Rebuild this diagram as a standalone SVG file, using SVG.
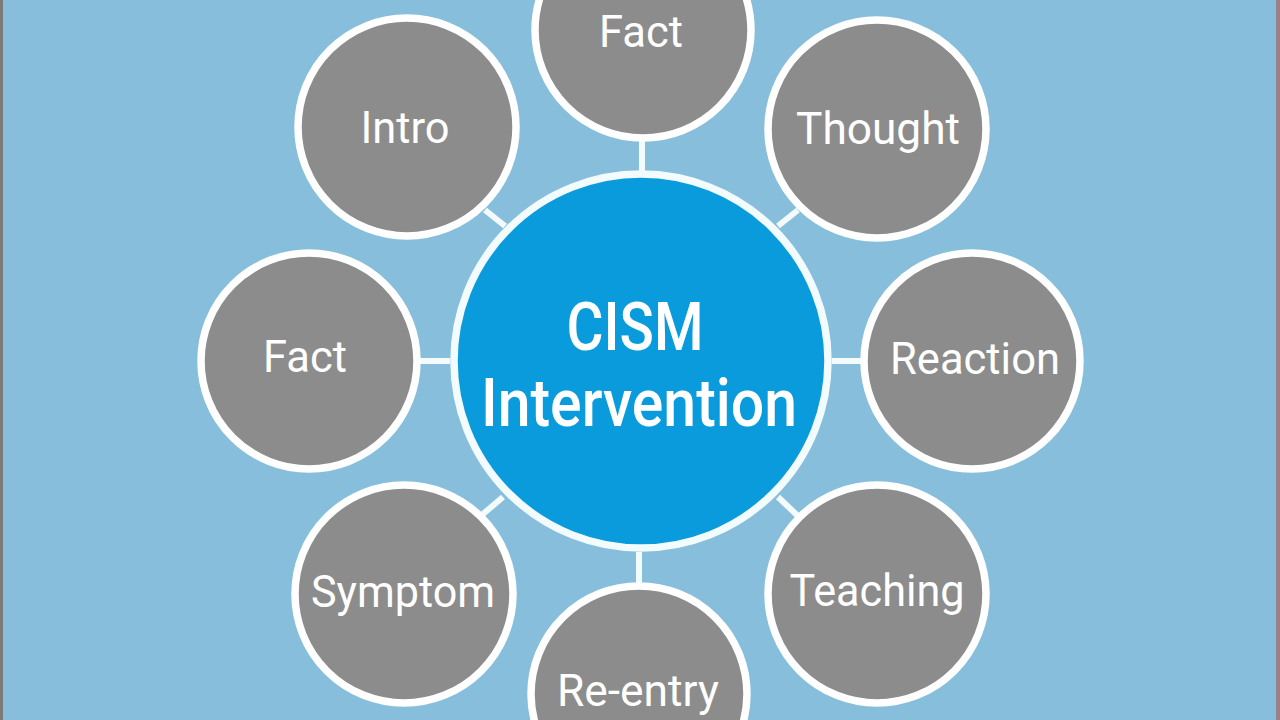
<svg xmlns="http://www.w3.org/2000/svg" width="1280" height="720" viewBox="0 0 1280 720">
<style>
.bg{fill:#86bedb}
.n{fill:#8c8c8c;stroke:#fff;stroke-width:7.5}
.c{fill:#0a9bdc;stroke:#f2fbfd;stroke-width:7.5}
.l{stroke:#f4fbfd;stroke-width:6;fill:none}
text{font-family:Roboto,"Liberation Sans",sans-serif;fill:#fff;text-anchor:middle;font-weight:400}
.t{font-size:44px}
.h{font-size:66px;font-weight:500}
</style>
<rect class="bg" width="1280" height="720"/>
<rect x="0" y="0" width="3" height="720" fill="#7b7b78"/>
<rect x="1276" y="0" width="4" height="720" fill="#987f88"/>
<g id="connectors">
<line class="l" x1="642" y1="140" x2="642" y2="172"/>
<line class="l" x1="485" y1="210" x2="505" y2="226"/>
<line class="l" x1="798" y1="210" x2="778" y2="226"/>
<line class="l" x1="420" y1="361" x2="450" y2="361"/>
<line class="l" x1="832" y1="361" x2="862" y2="361"/>
<line class="l" x1="483" y1="514" x2="503" y2="497"/>
<line class="l" x1="798" y1="516" x2="778" y2="497"/>
<line class="l" x1="639" y1="552" x2="639" y2="584"/>
</g>
<g id="node-center"><circle class="c" cx="641" cy="361" r="187"/><text class="h" x="635" y="350" textLength="137" lengthAdjust="spacingAndGlyphs">CISM</text><text class="h" x="639" y="426" textLength="316" lengthAdjust="spacingAndGlyphs">Intervention</text></g>
<g id="node-fact-top"><circle class="n" cx="643" cy="30" r="108"/><text class="t" x="641" y="47" textLength="84" lengthAdjust="spacingAndGlyphs">Fact</text></g>
<g id="node-intro"><circle class="n" cx="407" cy="127" r="109"/><text class="t" x="405" y="143" textLength="89" lengthAdjust="spacingAndGlyphs">Intro</text></g>
<g id="node-thought"><circle class="n" cx="877" cy="129" r="109"/><text class="t" x="878" y="144" textLength="164" lengthAdjust="spacingAndGlyphs">Thought</text></g>
<g id="node-fact-left"><circle class="n" cx="309" cy="361" r="108"/><text class="t" x="305" y="372" textLength="84" lengthAdjust="spacingAndGlyphs">Fact</text></g>
<g id="node-reaction"><circle class="n" cx="972" cy="361" r="108"/><text class="t" x="975" y="374" textLength="170" lengthAdjust="spacingAndGlyphs">Reaction</text></g>
<g id="node-symptom"><circle class="n" cx="404" cy="594" r="109"/><text class="t" x="403" y="607" textLength="184" lengthAdjust="spacingAndGlyphs">Symptom</text></g>
<g id="node-teaching"><circle class="n" cx="877" cy="594" r="109"/><text class="t" x="877" y="606" textLength="175" lengthAdjust="spacingAndGlyphs">Teaching</text></g>
<g id="node-reentry"><circle class="n" cx="639" cy="694" r="108"/><text class="t" x="638" y="706" textLength="162" lengthAdjust="spacingAndGlyphs">Re-entry</text></g>
</svg>
